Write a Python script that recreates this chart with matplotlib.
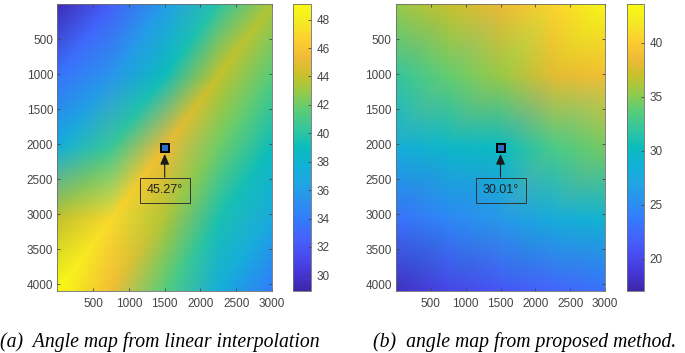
import numpy as np
import matplotlib
matplotlib.use("Agg")
import matplotlib.pyplot as plt
from matplotlib.colors import LinearSegmentedColormap
import matplotlib.tri as mtri

# ---- data ----
grid_x = [0, 750, 1500, 2250, 3000]          # column positions (px of image)
grid_y = [0, 1024, 2048, 3072, 4096]         # row positions
# angle (deg) at grid nodes, rows top -> bottom
angle_linear = [
    [29.3, 32.5, 36.0, 40.0, 43.5],
    [33.5, 35.5, 39.0, 44.0, 41.5],
    [37.5, 40.5, 45.3, 42.0, 39.0],
    [44.0, 47.0, 43.5, 39.5, 37.0],
    [49.0, 45.5, 41.5, 37.5, 34.0],
]
angle_proposed = [
    [35.5, 37.0, 38.5, 40.5, 43.0],
    [32.0, 34.0, 35.5, 38.0, 39.0],
    [28.3, 29.5, 30.0, 33.0, 34.5],
    [23.0, 24.5, 26.0, 28.0, 29.0],
    [18.0, 19.8, 21.0, 22.0, 23.0],
]
clim_linear = (28.9, 49.1)
clim_proposed = (17.0, 43.6)
cbar_ticks_linear = [30, 32, 34, 36, 38, 40, 42, 44, 46, 48]
cbar_ticks_proposed = [20, 25, 30, 35, 40]
xticks = [500, 1000, 1500, 2000, 2500, 3000]
yticks = [500, 1000, 1500, 2000, 2500, 3000, 3500, 4000]
tip_xy = (1500, 2050)
tip_linear = "45.27°"
tip_proposed = "30.01°"
caption_a = "(a)  Angle map from linear interpolation"
caption_b = "(b)  angle map from proposed method."

# ---- parula colormap ----
parula_anchors = [
    (0.2422, 0.1504, 0.6603), (0.2706, 0.2147, 0.8364), (0.2813, 0.3006, 0.9414),
    (0.2699, 0.3892, 0.9906), (0.1963, 0.4847, 0.9892), (0.1687, 0.5703, 0.9359),
    (0.1248, 0.6459, 0.8883), (0.0689, 0.6948, 0.8394), (0.0433, 0.7394, 0.7394),
    (0.1938, 0.7758, 0.6251), (0.3406, 0.8008, 0.4789), (0.5616, 0.7942, 0.3045),
    (0.7738, 0.7598, 0.1646), (0.9393, 0.7288, 0.2100), (0.9892, 0.8136, 0.1885),
    (0.9597, 0.9135, 0.1423), (0.9769, 0.9839, 0.0805),
]
parula = LinearSegmentedColormap.from_list("parula", parula_anchors, N=256)

# ---- triangulation on the node grid (anti-diagonal split) ----
nx, ny = len(grid_x), len(grid_y)
X, Y = np.meshgrid(grid_x, grid_y)
tris = []
for j in range(ny - 1):
    for i in range(nx - 1):
        a = j * nx + i
        b = j * nx + i + 1
        c = (j + 1) * nx + i
        d = (j + 1) * nx + i + 1
        tris.append([a, b, c])
        tris.append([b, d, c])
tri = mtri.Triangulation(X.ravel(), Y.ravel(), tris)

plt.rcParams["font.family"] = ["Liberation Sans", "DejaVu Sans"]

fig = plt.figure(figsize=(6.85, 3.53), dpi=100)
bottom, height = 1 - 291 / 353, 287 / 353
panels = [
    (angle_linear, clim_linear, cbar_ticks_linear, tip_linear,
     [57.4 / 685, bottom, 214.6 / 685, height], [293 / 685, bottom, 18 / 685, height]),
    (angle_proposed, clim_proposed, cbar_ticks_proposed, tip_proposed,
     [396 / 685, bottom, 209 / 685, height], [627 / 685, bottom, 17 / 685, height]),
]
tick_col = "#444444"
edge_col = "#6e6e6e"
for vals, clim, cticks, tip, apos, cpos in panels:
    ax = fig.add_axes(apos)
    m = ax.tripcolor(tri, np.asarray(vals).ravel(), shading="gouraud",
                     cmap=parula, vmin=clim[0], vmax=clim[1])
    ax.set_xlim(0, 3000)
    ax.set_ylim(4096, 0)
    ax.set_xticks(xticks)
    ax.set_yticks(yticks)
    ax.tick_params(direction="in", length=2.5, width=0.6, top=True, right=True,
                   labelsize=8.5, colors=tick_col, pad=3)
    ax.tick_params(axis="x", pad=5)
    for s in ax.spines.values():
        s.set_color(edge_col)
        s.set_linewidth(0.6)
    # data tip
    ax.plot([tip_xy[0]], [tip_xy[1]], marker="s", ms=5.5, mfc="#2a6fc0",
            mec="black", mew=1.4, zorder=5)
    ax.annotate(tip, xy=(tip_xy[0], tip_xy[1] + 90), xytext=(tip_xy[0], 2660),
                ha="center", va="center", fontsize=9, color="#222222",
                bbox=dict(boxstyle="square,pad=0.55", fc="none", ec="#333333", lw=0.7),
                arrowprops=dict(arrowstyle="-|>,head_length=0.7,head_width=0.3",
                                color="#1a1a1a", lw=0.8, shrinkA=0, shrinkB=0),
                zorder=6)
    cax = fig.add_axes(cpos)
    cb = fig.colorbar(m, cax=cax, ticks=cticks)
    cb.outline.set_edgecolor(edge_col)
    cb.outline.set_linewidth(0.6)
    cax.tick_params(direction="in", length=2, width=0.6, labelsize=8.5,
                    colors=tick_col, pad=4)

fig.text(0.0, 1 - 342 / 353, caption_a, fontsize=14.2,
         family="Liberation Serif", style="italic", va="center", ha="left")
fig.text(373 / 685, 1 - 342 / 353, caption_b, fontsize=14.2,
         family="Liberation Serif", style="italic", va="center", ha="left")

fig.savefig("out.png", dpi=100)
